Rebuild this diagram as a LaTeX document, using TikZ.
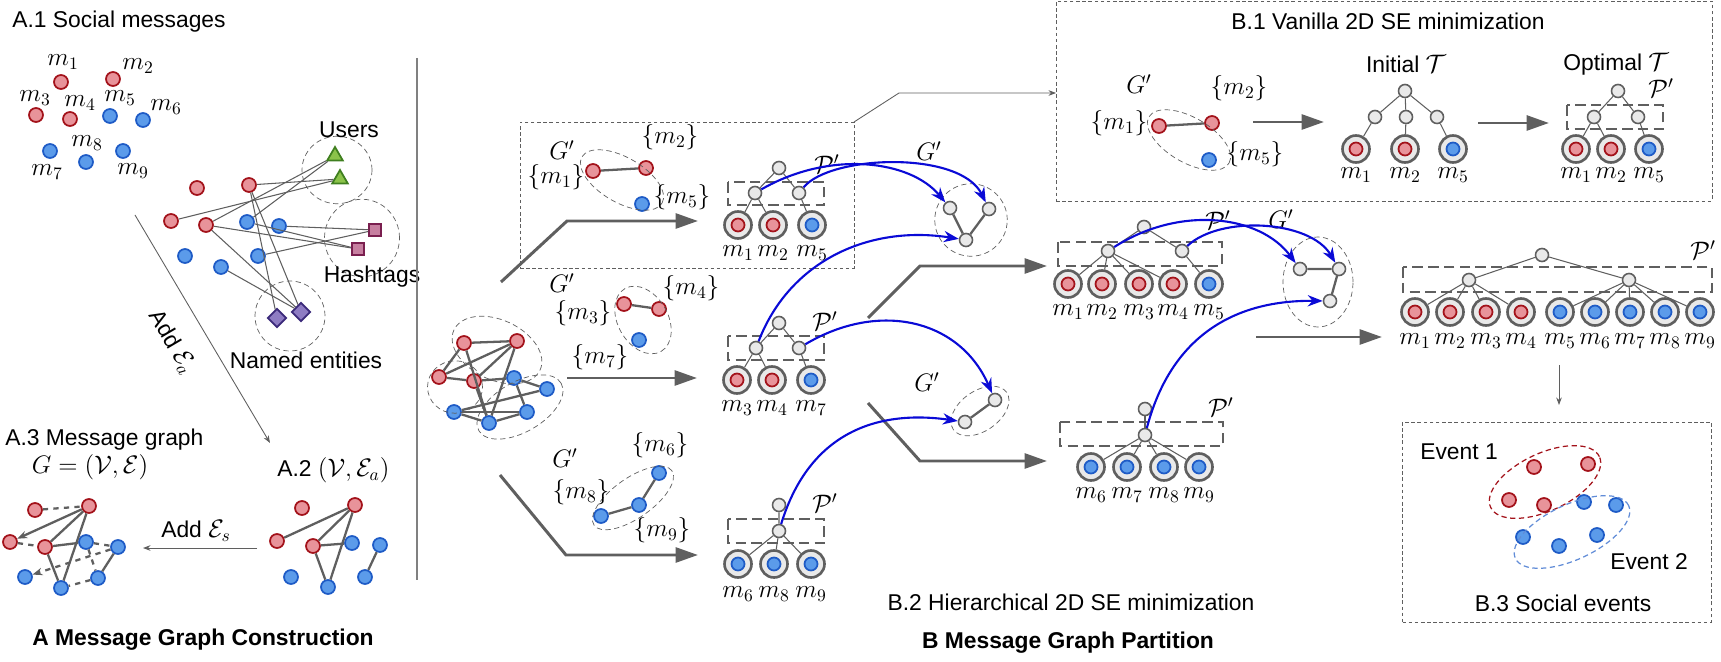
\documentclass[tikz,border=0pt]{standalone}
\usepackage{fontspec}
\setmainfont{Liberation Sans}
\usepackage{amsmath}
\usetikzlibrary{shapes.geometric,positioning,calc,arrows.meta}
\definecolor{redfill}{HTML}{E8939A}
\definecolor{redline}{HTML}{A3121A}
\definecolor{bluefill}{HTML}{5B9BEA}
\definecolor{blueline}{HTML}{1E5BC6}
\definecolor{grayfill}{HTML}{E9E9E9}
\definecolor{grayline}{HTML}{5F5F5F}
\definecolor{curveblue}{HTML}{0A0AD6}
\definecolor{userfill}{HTML}{8BC34A}
\definecolor{userline}{HTML}{3F7F1F}
\definecolor{tagfill}{HTML}{C77FA0}
\definecolor{tagline}{HTML}{7A1F4F}
\definecolor{entfill}{HTML}{8E7CC3}
\definecolor{entline}{HTML}{3B2A7A}
\newcommand\mleaf[4]{\node[leaf] (#1) at (#2,#3) {}; \node[#4dot, minimum size=0.26cm] (#1i) at (#2,#3) {};}

\begin{document}
\begin{tikzpicture}[x=0.02cm, y=-0.02cm, font=\fontsize{13}{15}\selectfont,
  rdot/.style={circle, draw=redline, fill=redfill, line width=1pt, minimum size=0.28cm, inner sep=0},
  bdot/.style={circle, draw=blueline, fill=bluefill, line width=1pt, minimum size=0.28cm, inner sep=0},
  tnode/.style={circle, draw=grayline, fill=grayfill, line width=0.9pt, minimum size=0.26cm, inner sep=0},
  leaf/.style={circle, draw=grayline, fill=grayfill, line width=1.5pt, minimum size=0.54cm, inner sep=0},
  bigarrow/.style={draw=grayline, line width=1.7pt, -{Triangle[length=0.45cm,width=0.3cm]}},
  thinarrow/.style={draw=grayline, line width=0.5pt, -{Stealth[length=0.15cm]}},
  curve/.style={draw=curveblue, line width=1.2pt, -{Stealth[length=0.3cm]}},
  tedge/.style={draw=grayline, line width=0.6pt},
  gedge/.style={draw=grayline, line width=1.3pt},
  dbox/.style={draw=grayline, dash pattern=on 6pt off 3pt, line width=0.8pt},
  frame/.style={draw=grayline, dash pattern=on 2pt off 1.5pt, line width=0.5pt},
  group/.style={ellipse, draw=grayline, dash pattern=on 3pt off 2pt, line width=0.4pt, inner sep=0},
  lab/.style={inner sep=0, font=\fontsize{14}{16}\selectfont},
  txt/.style={inner sep=0, font=\fontsize{13}{15}\selectfont}]
\useasboundingbox (0,0) rectangle (1721,662);

% A.1 social messages
\node[txt, anchor=west] (ta1) at (12,22) {A.1 Social messages};
\foreach \n/\x/\y/\c in {1/61/82/r,2/113/79/r,3/36/115/r,4/70/119/r,5/110/116/b,6/143/120/b,7/50/151/b,8/86/162/b,9/123/151/b}
  \node[\c dot] (s\n) at (\x,\y) {};
\foreach \n/\x/\y in {1/63/62,2/138/66,3/35/98,4/80/103,5/120/98,6/166/107,7/47/172,8/87/143,9/133/171}
  \node[lab] (ls\n) at (\x,\y) {$m_{\n}$};

% heterogeneous graph
\foreach \n/\x/\y/\c in {1/197/188/r,2/249/185/r,3/171/221/r,4/206/225/r,5/247/222/b,6/279/226/b,7/185/256/b,8/221/267/b,9/258/256/b}
  \node[\c dot] (h\n) at (\x,\y) {};
\node[regular polygon, regular polygon sides=3, draw=userline, fill=userfill, line width=1pt, minimum size=0.36cm, inner sep=0] (u1) at (335,156) {};
\node[regular polygon, regular polygon sides=3, draw=userline, fill=userfill, line width=1pt, minimum size=0.36cm, inner sep=0] (u2) at (340,179) {};
\node[rectangle, draw=tagline, fill=tagfill, line width=1pt, minimum size=0.24cm, inner sep=0] (t1) at (375,230) {};
\node[rectangle, draw=tagline, fill=tagfill, line width=1pt, minimum size=0.24cm, inner sep=0] (t2) at (358,249) {};
\node[diamond, draw=entline, fill=entfill, line width=1pt, minimum size=0.38cm, inner sep=0] (e1) at (277,318) {};
\node[diamond, draw=entline, fill=entfill, line width=1pt, minimum size=0.38cm, inner sep=0] (e2) at (301,312) {};
\node[group, minimum width=1.4cm, minimum height=1.35cm] (gu) at (337,170) {};
\node[group, minimum width=1.5cm, minimum height=1.55cm] (gt) at (362,238) {};
\node[group, minimum width=1.4cm, minimum height=1.4cm] (ge) at (290,316) {};
\node[txt] (lu) at (349,130) {Users};
\node[txt] (lt) at (372,277) {Hashtags};
\node[txt] (le) at (306,360) {Named entities};
\foreach \a/\b in {h2/u2,h2/e1,h2/e2,h3/u2,h4/u1,h4/t2,h4/e2,h5/u1,h5/t2,h6/t1,h9/t1,h8/e2}
  \draw[tedge] (\a) -- (\b);

% A.2 and A.3
\coordinate (ea0) at (135,215);
\coordinate (ea1) at (270,443);
\draw[thinarrow] (ea0) -- (ea1);
\node[txt, rotate=-59.4] (lea) at (172,342) {Add \fontsize{14}{16}\selectfont$\mathcal{E}_a$};
\node[txt, anchor=west] (ta2) at (277,470) {A.2 \fontsize{14}{16}\selectfont$(\mathcal{V},\mathcal{E}_a)$};
\node[txt, anchor=west] (ta3) at (5,440) {A.3 Message graph};
\node[lab] (lg) at (90,467) {$G=(\mathcal{V},\mathcal{E})$};
\foreach \n/\x/\y/\c in {1/302/508/r,2/355/505/r,3/277/541/r,4/313/546/r,5/352/543/b,6/291/577/b,7/328/587/b,8/365/577/b,9/380/545/b}
  \node[\c dot] (p\n) at (\x,\y) {};
\foreach \a/\b in {p2/p3,p2/p4,p2/p7,p4/p5,p4/p7,p8/p9}
  \draw[gedge] (\a) -- (\b);
\foreach \n/\x/\y/\c in {1/35/510/r,2/89/506/r,3/10/542/r,4/45/547/r,5/86/542/b,6/118/547/b,7/25/577/b,8/61/588/b,9/98/578/b}
  \node[\c dot] (q\n) at (\x,\y) {};
\foreach \a/\b in {q2/q4,q2/q8,q4/q5,q4/q8,q6/q9}
  \draw[gedge] (\a) -- (\b);
\draw[gedge, -{Stealth[length=0.2cm]}] (q2) -- (q3);
\foreach \a/\b in {q1/q2,q3/q4,q5/q6,q5/q9,q9/q8}
  \draw[gedge, dashed] (\a) -- (\b);
\draw[gedge, dashed, -{Stealth[length=0.2cm]}] (q6) -- (q7);
\coordinate (es0) at (257,548);
\coordinate (es1) at (143,548);
\draw[thinarrow] (es0) -- (es1);
\node[txt] (les) at (196,531) {Add \fontsize{14}{16}\selectfont$\mathcal{E}_s$};
\node[txt, font=\fontsize{13}{15}\selectfont\bfseries] (tA) at (203,640) {A Message Graph Construction};
\draw[draw=gray, line width=0.6pt] (417,58) -- (417,580);

% B: input graph
\foreach \n/\x/\y/\c in {1/464/343/r,2/517/341/r,3/439/377/r,4/474/381/r,5/514/378/b,6/547/389/b,7/454/412/b,8/489/423/b,9/527/412/b}
  \node[\c dot] (g\n) at (\x,\y) {};
\foreach \a/\b in {g1/g2,g1/g3,g3/g4,g3/g2,g4/g2,g2/g8,g4/g5,g4/g8,g5/g6,g5/g9,g7/g9,g7/g6,g7/g8,g8/g9,g1/g8}
  \draw[gedge] (\a) -- (\b);
\node[group, minimum width=1.9cm, minimum height=1.2cm, rotate=-25] (ga) at (497,350) {};
\node[group, minimum width=1.1cm, minimum height=1.05cm] (gb) at (455,387) {};
\node[group, minimum width=1.9cm, minimum height=1.0cm, rotate=30] (gc) at (520,407) {};

% B: subgraphs
\node[frame, minimum width=6.68cm, minimum height=2.92cm, inner sep=0] (fr) at (687,195) {};
\node[lab] (lg1) at (562,150) {$G'$};
\node[rdot] (a1) at (593,171) {};
\node[rdot] (a2) at (646,168) {};
\node[bdot] (a5) at (642,204) {};
\draw[gedge] (a1) -- (a2);
\node[group, minimum width=1.85cm, minimum height=0.9cm, rotate=-30] (ela) at (622,180) {};
\node[lab] (la1) at (556,177) {$\{m_1\}$};
\node[lab] (la2) at (670,137) {$\{m_2\}$};
\node[lab] (la5) at (682,197) {$\{m_5\}$};

\node[lab] (lg2) at (562,283) {$G'$};
\node[rdot] (b3) at (624,304) {};
\node[rdot] (b4) at (659,309) {};
\node[bdot] (b7) at (639,340) {};
\draw[gedge] (b3) -- (b4);
\node[group, minimum width=1.45cm, minimum height=1.0cm, rotate=-60] (elb) at (643,320) {};
\node[lab] (lb3) at (583,313) {$\{m_3\}$};
\node[lab] (lb4) at (691,288) {$\{m_4\}$};
\node[lab] (lb7) at (600,357) {$\{m_7\}$};

\node[lab] (lg3) at (565,458) {$G'$};
\node[bdot] (c6) at (659,473) {};
\node[bdot] (c9) at (639,505) {};
\node[bdot] (c8) at (601,516) {};
\draw[gedge] (c8) -- (c9) -- (c6);
\node[group, minimum width=1.9cm, minimum height=0.8cm, rotate=35] (elc) at (633,498) {};
\node[lab] (lc6) at (660,445) {$\{m_6\}$};
\node[lab] (lc8) at (581,492) {$\{m_8\}$};
\node[lab] (lc9) at (662,530) {$\{m_9\}$};

% B: gray arrows
\coordinate (r1a) at (501,282); \coordinate (r1b) at (567,221); \coordinate (r1c) at (698,221);
\coordinate (r2a) at (567,378); \coordinate (r2b) at (697,378);
\coordinate (r3a) at (500,475); \coordinate (r3b) at (566,555); \coordinate (r3c) at (698,555);
\draw[bigarrow] (r1a) -- (r1b) -- (r1c);
\draw[bigarrow] (r2a) -- (r2b);
\draw[bigarrow] (r3a) -- (r3b) -- (r3c);
\coordinate (r4a) at (868,318); \coordinate (r4b) at (920,266); \coordinate (r4c) at (1047,266);
\coordinate (r5a) at (868,403); \coordinate (r5b) at (920,461); \coordinate (r5c) at (1047,461);
\coordinate (r6a) at (1256,337); \coordinate (r6b) at (1382,337);
\draw[bigarrow] (r4a) -- (r4b) -- (r4c);
\draw[bigarrow] (r5a) -- (r5b) -- (r5c);
\draw[bigarrow] (r6a) -- (r6b);

% B: first-level trees
\node[tnode] (t1r) at (779,168) {};
\node[tnode] (t1a) at (755,193) {};
\node[tnode] (t1b) at (799,193) {};
\draw[dbox] (728,182) rectangle (824,205);
\foreach \i/\x/\c/\k in {1/738/r/1,2/773/r/2,3/812/b/5} {
  \mleaf{t1l\i}{\x}{225}{\c}
  \node[lab] (t1m\i) at (\x,253) {$m_{\k}$};
}
\draw[tedge] (t1r) -- (t1a) (t1r) -- (t1b) (t1a) -- (t1l1) (t1a) -- (t1l2) (t1b) -- (t1l3);
\node[lab] (t1p) at (827,164) {$\mathcal{P}'$};

\node[tnode] (t2r) at (779,323) {};
\node[tnode] (t2a) at (756,348) {};
\node[tnode] (t2b) at (799,348) {};
\draw[dbox] (728,336) rectangle (824,360);
\foreach \i/\x/\c/\k in {1/737/r/3,2/772/r/4,3/811/b/7} {
  \mleaf{t2l\i}{\x}{380}{\c}
  \node[lab] (t2m\i) at (\x,408) {$m_{\k}$};
}
\draw[tedge] (t2r) -- (t2a) (t2r) -- (t2b) (t2a) -- (t2l1) (t2a) -- (t2l2) (t2b) -- (t2l3);
\node[lab] (t2p) at (825,321) {$\mathcal{P}'$};

\node[tnode] (t3r) at (779,505) {};
\node[tnode] (t3a) at (779,531) {};
\draw[dbox] (728,519) rectangle (824,543);
\foreach \i/\x/\c/\k in {1/738/b/6,2/774/b/8,3/811/b/9} {
  \mleaf{t3l\i}{\x}{564}{\c}
  \node[lab] (t3m\i) at (\x,594) {$m_{\k}$};
}
\draw[tedge] (t3r) -- (t3a) (t3a) -- (t3l1) (t3a) -- (t3l2) (t3a) -- (t3l3);
\node[lab] (t3p) at (825,503) {$\mathcal{P}'$};

% B: coarse graphs
\node[tnode] (k1a) at (950,208) {};
\node[tnode] (k1b) at (989,209) {};
\node[tnode] (k1c) at (966,240) {};
\draw[gedge] (k1a) -- (k1c) -- (k1b);
\node[group, minimum width=1.45cm, minimum height=1.45cm] (elk1) at (971,220) {};
\node[lab] (lk1) at (929,151) {$G'$};
\node[tnode] (k2a) at (995,400) {};
\node[tnode] (k2b) at (965,422) {};
\draw[gedge] (k2a) -- (k2b);
\node[group, minimum width=1.3cm, minimum height=0.8cm, rotate=35] (elk2) at (980,411) {};
\node[lab] (lk2) at (927,382) {$G'$};

\draw[curve] (t1a) .. controls (830,150) and (910,160) .. (k1a);
\draw[curve] (t1b) .. controls (830,155) and (960,150) .. (k1b);
\draw[curve] (t2a) .. controls (790,260) and (870,225) .. (k1c);
\draw[curve] (t2b) .. controls (880,300) and (960,320) .. (k2a);
\draw[curve] (t3a) .. controls (810,430) and (880,410) .. (k2b);

% B: second-level trees
\node[tnode] (t4r) at (1144,227) {};
\node[tnode] (t4a) at (1108,251) {};
\node[tnode] (t4b) at (1182,251) {};
\draw[dbox] (1058,242) rectangle (1222,266);
\foreach \i/\x/\c in {1/1068/r,2/1102/r,3/1139/r,4/1173/r,5/1209/b} {
  \mleaf{t4l\i}{\x}{284}{\c}
  \node[lab] (t4m\i) at (\x,312) {$m_{\i}$};
}
\draw[tedge] (t4r) -- (t4a) (t4r) -- (t4b) (t4b) -- (t4l5);
\foreach \i in {1,...,4} \draw[tedge] (t4a) -- (t4l\i);
\node[lab] (t4p) at (1218,220) {$\mathcal{P}'$};

\node[tnode] (t5r) at (1145,409) {};
\node[tnode] (t5a) at (1145,435) {};
\draw[dbox] (1060,422) rectangle (1223,446);
\foreach \i/\x/\k in {1/1091/6,2/1127/7,3/1164/8,4/1199/9} {
  \mleaf{t5l\i}{\x}{467}{b}
  \node[lab] (t5m\i) at (\x,495) {$m_{\k}$};
  \draw[tedge] (t5a) -- (t5l\i);
}
\draw[tedge] (t5r) -- (t5a);
\node[lab] (t5p) at (1221,407) {$\mathcal{P}'$};

\node[tnode] (k3a) at (1300,269) {};
\node[tnode] (k3b) at (1339,269) {};
\node[tnode] (k3c) at (1330,301) {};
\draw[gedge] (k3a) -- (k3b) -- (k3c);
\node[group, minimum width=1.4cm, minimum height=1.8cm] (elk3) at (1318,282) {};
\node[lab] (lk3) at (1281,219) {$G'$};
\draw[curve] (t4a) .. controls (1180,205) and (1260,215) .. (k3a);
\draw[curve] (t4b) .. controls (1220,215) and (1310,220) .. (k3b);
\draw[curve] (t5a) .. controls (1170,340) and (1230,300) .. (k3c);

% B: final tree
\node[tnode] (t6r) at (1542,255) {};
\node[tnode] (t6a) at (1469,280) {};
\node[tnode] (t6b) at (1629,280) {};
\draw[dbox] (1403,267) rectangle (1712,292);
\foreach \i/\x/\c in {1/1415/r,2/1450/r,3/1486/r,4/1521/r,5/1560/b,6/1595/b,7/1630/b,8/1665/b,9/1700/b} {
  \mleaf{t6l\i}{\x}{312}{\c}
  \node[lab] (t6m\i) at (\x,341) {$m_{\i}$};
}
\draw[tedge] (t6r) -- (t6a) (t6r) -- (t6b);
\foreach \i in {1,...,4} \draw[tedge] (t6a) -- (t6l\i);
\foreach \i in {5,...,9} \draw[tedge] (t6b) -- (t6l\i);
\node[lab] (t6p) at (1703,250) {$\mathcal{P}'$};
\node[txt] (tB2) at (1071,602) {B.2 Hierarchical 2D SE minimization};
\node[txt, font=\fontsize{13}{15}\selectfont\bfseries] (tB) at (1068,643) {B Message Graph Partition};

% B.1 vanilla
\node[frame, minimum width=13.12cm, minimum height=4.0cm, inner sep=0] (fb1) at (1384,101) {};
\coordinate (z0) at (854,122); \coordinate (z1) at (899,93); \coordinate (z2) at (1056,93);
\draw[thinarrow] (z0) -- (z1) -- (z2);
\node[txt] (tB1) at (1388,21) {B.1 Vanilla 2D SE minimization};
\node[lab] (lv) at (1139,84) {$G'$};
\node[rdot] (v1) at (1159,126) {};
\node[rdot] (v2) at (1212,123) {};
\node[bdot] (v5) at (1209,160) {};
\draw[gedge] (v1) -- (v2);
\node[group, minimum width=1.85cm, minimum height=0.9cm, rotate=-30] (elv) at (1189,140) {};
\node[lab] (lv1) at (1119,123) {$\{m_1\}$};
\node[lab] (lv2) at (1239,88) {$\{m_2\}$};
\node[lab] (lv5) at (1255,154) {$\{m_5\}$};
\coordinate (w0) at (1253,122); \coordinate (w1) at (1324,122);
\coordinate (w2) at (1478,123); \coordinate (w3) at (1549,123);
\draw[bigarrow] (w0) -- (w1);
\draw[bigarrow] (w2) -- (w3);
\node[txt] (li) at (1406,64) {Initial \fontsize{14}{16}\selectfont$\mathcal{T}$};
\node[tnode] (ir) at (1405,91) {};
\foreach \i/\x/\c/\k in {1/1356/r/1,2/1405/r/2,3/1453/b/5} {
  \node[tnode] (im\i) at ({1344+31*\i},117) {};
  \mleaf{il\i}{\x}{149}{\c}
  \node[lab] (ilm\i) at (\x,175) {$m_{\k}$};
  \draw[tedge] (ir) -- (im\i) -- (il\i);
}
\node[txt] (lo) at (1616,64) {Optimal \fontsize{14}{16}\selectfont$\mathcal{T}$};
\node[tnode] (or) at (1618,91) {};
\node[tnode] (oa) at (1594,117) {};
\node[tnode] (ob) at (1638,117) {};
\draw[dbox] (1567,105) rectangle (1663,129);
\foreach \i/\x/\c/\k in {1/1576/r/1,2/1611/r/2,3/1649/b/5} {
  \mleaf{ol\i}{\x}{149}{\c}
  \node[lab] (olm\i) at (\x,175) {$m_{\k}$};
}
\draw[tedge] (or) -- (oa) (or) -- (ob) (oa) -- (ol1) (oa) -- (ol2) (ob) -- (ol3);
\node[lab] (op) at (1661,88) {$\mathcal{P}'$};

% B.3 social events
\coordinate (d0) at (1559,365); \coordinate (d1) at (1559,405);
\draw[thinarrow] (d0) -- (d1);
\node[frame, minimum width=6.18cm, minimum height=4.0cm, inner sep=0] (fb3) at (1557,522) {};
\foreach \n/\x/\y/\c in {1/1534/467/r,2/1588/464/r,3/1509/500/r,4/1544/505/r,5/1584/502/b,6/1616/505/b,7/1523/537/b,8/1559/546/b,9/1597/535/b}
  \node[\c dot] (ev\n) at (\x,\y) {};
\node[ellipse, draw=redline, dash pattern=on 3pt off 2pt, line width=0.7pt, minimum width=2.4cm, minimum height=1.15cm, rotate=25] (ev1g) at (1545,482) {};
\node[ellipse, draw=blueline!70, dash pattern=on 3pt off 2pt, line width=0.7pt, minimum width=2.5cm, minimum height=1.1cm, rotate=25] (ev2g) at (1572,532) {};
\node[txt] (lev1) at (1459,452) {Event 1};
\node[txt] (lev2) at (1649,562) {Event 2};
\node[txt] (tB3) at (1563,603) {B.3 Social events};
\end{tikzpicture}
\end{document}
